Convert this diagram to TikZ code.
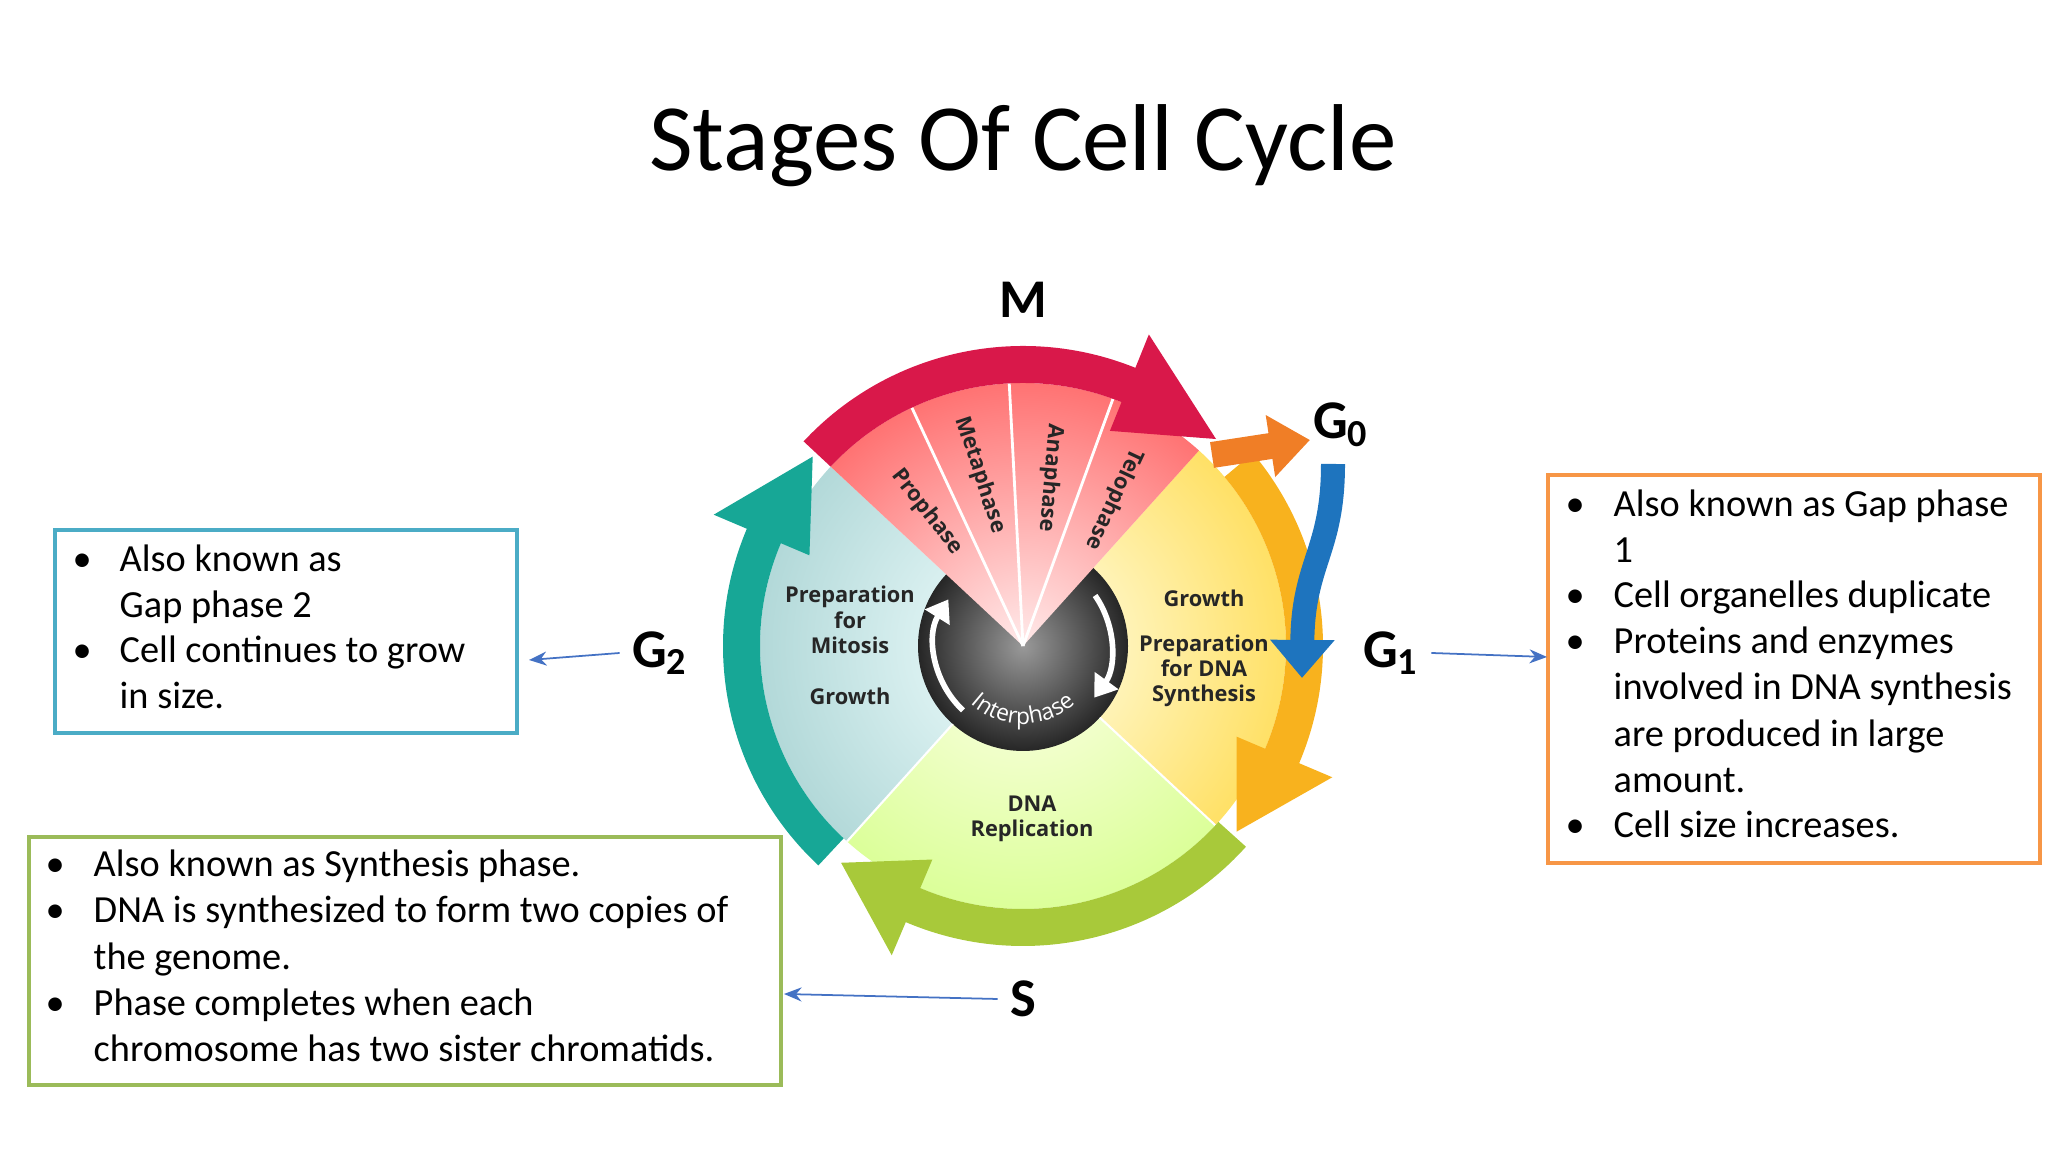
\documentclass[tikz,border=0pt]{standalone}
\usepackage{fontspec}
\setmainfont{Carlito}
\newfontfamily\wf{Open Sans}
\usetikzlibrary{arrows.meta,decorations.text}
\definecolor{rd}{HTML}{D9184A}
\definecolor{og}{HTML}{F07E26}
\definecolor{yl}{HTML}{F8B21E}
\definecolor{bl}{HTML}{1E74BE}
\definecolor{gr}{HTML}{A8C93A}
\definecolor{tl}{HTML}{17A796}
\definecolor{boxb}{HTML}{4BACC6}
\definecolor{boxo}{HTML}{F79646}
\definecolor{boxg}{HTML}{9BBB59}
\definecolor{conn}{HTML}{4472C4}
\newcommand\cycarrow[4]{\fill[#1] (#2:263) arc[start angle=#2,end angle=#3,radius=263] -- (#3:232) -- (#4:283) -- (#3:336) -- (#3:300) arc[start angle=#3,end angle=#2,radius=300] -- cycle;}
\newcommand\wsector[4]{\begin{scope}\clip (0,0) -- (#1:263) arc[start angle=#1,end angle=#2,radius=263] -- cycle;
\shade[inner color=#3,outer color=#4] (0,0) circle (263);\end{scope}}
\begin{document}
\begin{tikzpicture}[x=0.01cm,y=0.01cm,
  lbl/.style={font=\bfseries\fontsize{15.5pt}{18pt}\selectfont},
  wt/.style={font=\wf\bfseries\fontsize{6.2pt}{7.2pt}\selectfont, align=center, text=black!85},
  bt/.style={anchor=mid west, font=\fontsize{10.9pt}{12pt}\selectfont, inner sep=0pt},
  box/.style={draw, line width=0.9pt},
  conn/.style={draw=conn, line width=0.5pt, -{Stealth[length=5pt,width=4pt]}}]
\useasboundingbox (0,0) rectangle (2048,1152);
\node[font=\fontsize{27pt}{32pt}\selectfont] (title) at (1023,1006) {Stages Of Cell Cycle};
\begin{scope}[shift={(1023,506)}]
\wsector{-43}{48}{yellow!8}{orange!40!yellow!60}
\wsector{-132}{-43}{yellow!8}{green!35!yellow!40}
\wsector{137}{228}{cyan!5}{teal!30}
\shade[inner color=black!40, outer color=black!85] (0,0) circle (105);
\wsector{48}{137}{red!8}{red!55}
\foreach \a in {70,93,115} \draw[white, line width=0.8pt] (0,0) -- (\a:263);
\foreach \a in {-43,-132} \draw[white, line width=0.6pt] (\a:105) -- (\a:263);
\draw[white, line width=1.6pt, -{Triangle[length=6pt,width=8pt]}] (227:88) arc[start angle=227,end angle=148,radius=88];
\draw[white, line width=1.6pt, -{Triangle[length=6pt,width=8pt]}] (35:88) arc[start angle=35,end angle=-36,radius=88];
\path[decorate, decoration={text along path, text align=center, text={|\wf\fontsize{6.5pt}{7pt}\selectfont\color{white}|Interphase}}] (-150:78) arc[start angle=-150,end angle=-30,radius=78];
\cycarrow{rd}{137}{68}{47}
\cycarrow{yl}{40}{-23}{-41}
\cycarrow{gr}{-42}{-113}{-130}
\cycarrow{tl}{227}{157}{138}
\end{scope}
\coordinate (g0s) at (1212,697);
\coordinate (g0e) at (1310,712);
\draw[og, line width=0.26cm, -{Triangle[width=0.6cm,length=0.4cm]}] (g0s) -- (g0e);
\coordinate (bls) at (1333,688);
\coordinate (ble) at (1302,474);
\draw[bl, line width=0.24cm, -{Triangle[width=0.62cm,length=0.38cm]}] (bls) .. controls (1333,600) and (1303,590) .. (ble);
\node[wt, rotate=-52] (pro) at (927,640) {Prophase};
\node[wt, rotate=-72] (met) at (980,677) {Metaphase};
\node[wt, rotate=-95] (ana) at (1050,674) {Anaphase};
\node[wt, rotate=-115] (tel) at (1114,653) {Telophase};
\node[wt] (pm) at (850,532) {Preparation\\for\\Mitosis};
\node[wt] (g2g) at (850,456) {Growth};
\node[wt] (g1g) at (1204,554) {Growth};
\node[wt] (pd) at (1204,481) {Preparation\\for DNA\\Synthesis};
\node[wt] (dr) at (1032,333) {DNA\\Replication};
\node[lbl] (M) at (1023,852) {M};
\node[lbl] (G0) at (1341,727) {G\textsubscript{0}};
\node[lbl] (G1) at (1391,499) {G\textsubscript{1}};
\node[lbl] (G2) at (660,499) {G\textsubscript{2}};
\node[lbl] (S) at (1023,153) {S};
\draw[box, boxb] (55,622) rectangle (517,419);
\draw[box, boxo] (1548,677) rectangle (2040,289);
\draw[box, boxg] (29,315) rectangle (781,67);
\coordinate (e2) at (529,492);
\coordinate (e1) at (1547,495);
\coordinate (es) at (784,158);
\draw[conn] (G2.west) -- (e2);
\draw[conn] (G1.east) -- (e1);
\draw[conn] (S.west) -- (es);
\foreach \y/\t/\b in {589/Also known as/1, 543/Gap phase 2/0, 498/Cell continues to grow/1, 452/in size./0}{
  \node[bt] at (119,\y) {\t};
  \ifnum\b=1 \node[bt] at (72,\y) {•};\fi}
\foreach \y/\t/\b in {644/Also known as Gap phase/1, 598/1/0, 553/Cell organelles duplicate/1, 507/Proteins and enzymes/1, 461/involved in DNA synthesis/0, 414/are produced in large/0, 368/amount./0, 323/Cell size increases./1}{
  \node[bt] at (1613,\y) {\t};
  \ifnum\b=1 \node[bt] at (1565,\y) {•};\fi}
\foreach \y/\t/\b in {284/Also known as Synthesis phase./1, 238/DNA is synthesized to form two copies of/1, 191/the genome./0, 145/Phase completes when each/1, 99/chromosome has two sister chromatids./0}{
  \node[bt] at (93,\y) {\t};
  \ifnum\b=1 \node[bt] at (45,\y) {•};\fi}
\end{tikzpicture}
\end{document}
